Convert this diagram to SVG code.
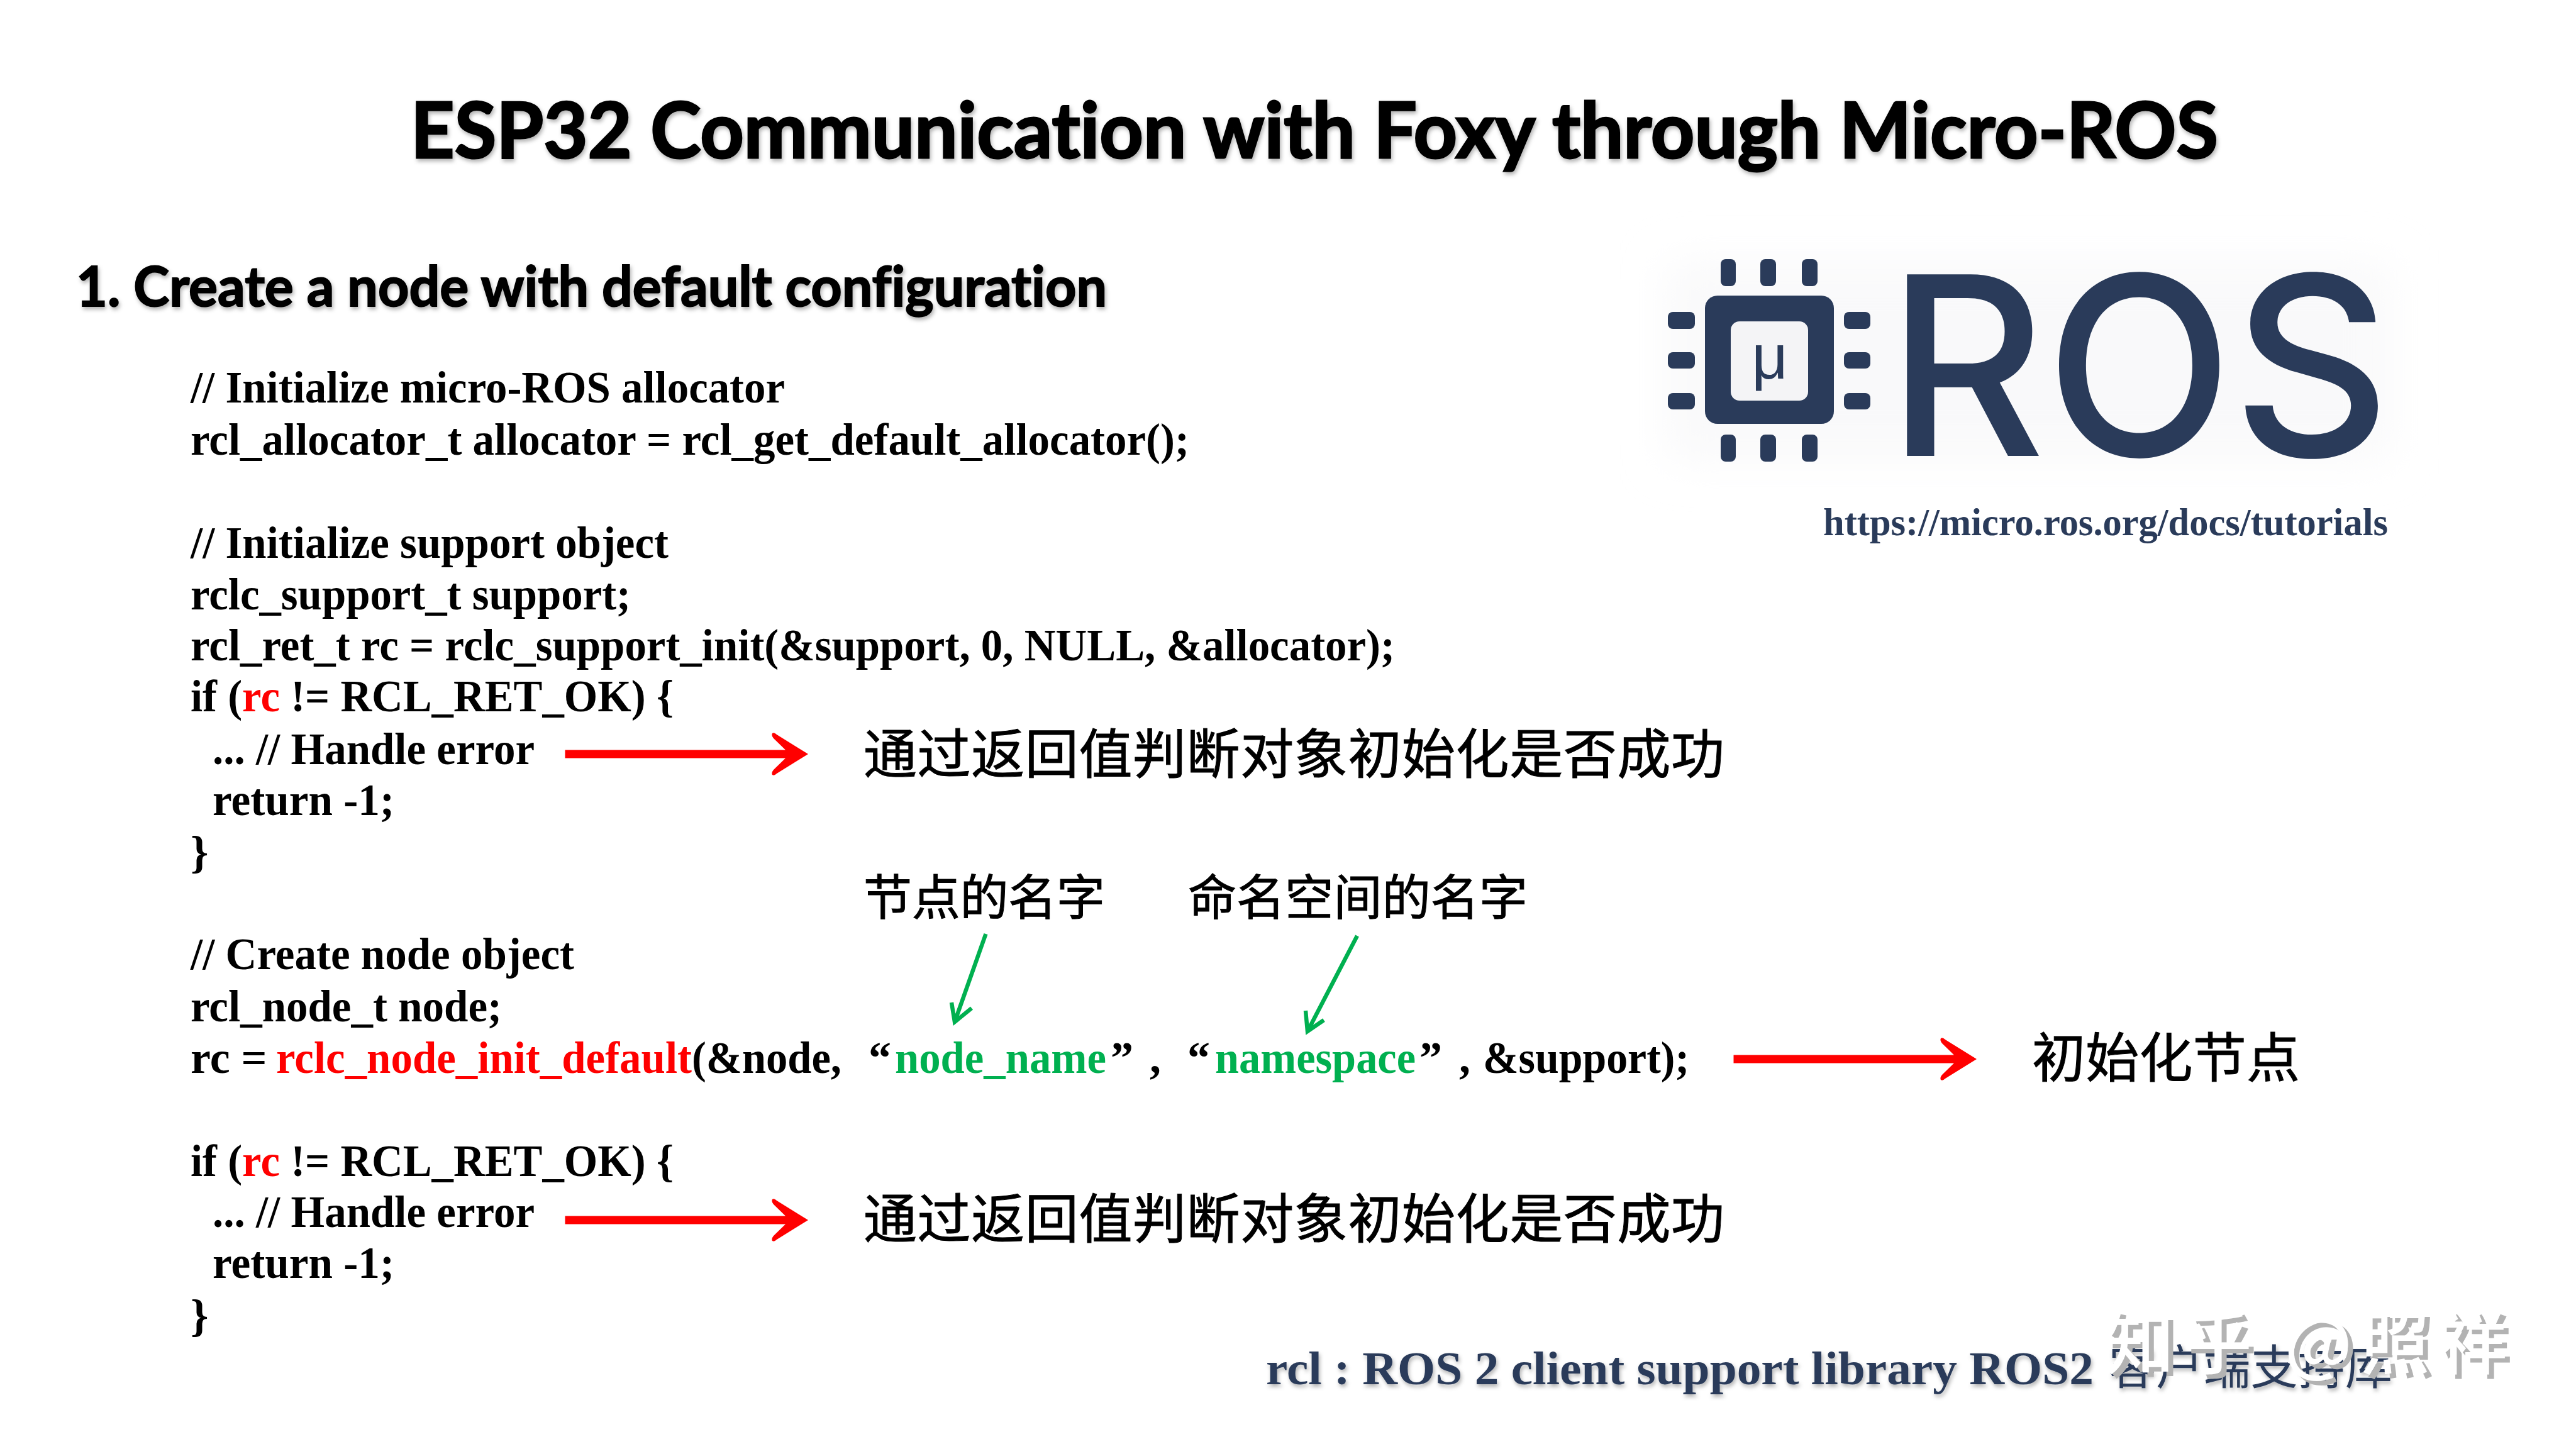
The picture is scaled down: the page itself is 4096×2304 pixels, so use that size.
<svg xmlns="http://www.w3.org/2000/svg" width="4096" height="2304" viewBox="0 0 4096 2304">
<style>
.c{font-family:"Liberation Serif","Noto Sans CJK SC",serif;font-weight:700;font-size:72px;fill:#000}
.r{fill:#f00}.g{fill:#00b050}
.h{font-family:Lato,"Liberation Sans",sans-serif;font-weight:700;fill:#000;stroke:#000;font-variant-ligatures:none}
.z{font-family:"Noto Sans CJK SC",sans-serif;fill:#000;stroke:#000;stroke-width:1}
.n{font-family:"Liberation Serif","Noto Sans CJK SC",serif;font-weight:700;fill:#2a3b5a}
.p{fill:#2a3b5a}
.ga{fill:none;stroke:#00b050;stroke-width:6.5}
</style>
<defs>
<filter id="b" x="-20%" y="-30%" width="140%" height="160%"><feGaussianBlur stdDeviation="35"/></filter>
<filter id="s" x="-5%" y="-20%" width="110%" height="150%"><feDropShadow dx="2" dy="4" stdDeviation="3" flood-color="#000" flood-opacity=".3"/></filter>
<filter id="w" x="-5%" y="-10%" width="110%" height="120%"><feDropShadow dx="8" dy="7" stdDeviation="0" flood-color="#b3b3b3"/></filter>
<path id="ra" fill="#f00" d="M898.5 1192.6H1249L1231 1175Q1226 1170 1228 1166Q1231 1164 1235 1168L1285 1199L1235 1230Q1231 1234 1228 1232Q1226 1228 1231 1223L1249 1205.4H898.5Z"/>
</defs>
<rect width="4096" height="2304" fill="#fff"/>
<g id="title"><text class="h" x="653" y="251" font-size="122" stroke-width="3" textLength="2874" lengthAdjust="spacingAndGlyphs" filter="url(#s)">ESP32 Communication with Foxy through Micro-ROS</text></g>
<g id="heading"><text class="h" x="121" y="487" font-size="88" stroke-width="2" textLength="1639" lengthAdjust="spacingAndGlyphs" filter="url(#s)">1. Create a node with default configuration</text></g>
<g id="logo">
<rect x="2650" y="420" width="1150" height="310" fill="#f9f9fa" filter="url(#b)"/>
<rect class="p" x="2711" y="470" width="205" height="204" rx="20"/>
<rect x="2752" y="511" width="123" height="126" rx="14" fill="#f4f4f6"/>
<text x="2814" y="602" font-family="'Liberation Sans',sans-serif" font-size="100" text-anchor="middle" class="p">μ</text>
<g class="p">
<rect x="2736" y="412" width="24" height="43" rx="8"/><rect x="2799" y="412" width="25" height="43" rx="8"/><rect x="2865" y="412" width="25" height="43" rx="8"/>
<rect x="2736" y="691" width="24" height="43" rx="8"/><rect x="2799" y="691" width="25" height="43" rx="8"/><rect x="2865" y="691" width="25" height="43" rx="8"/>
<rect x="2652" y="496" width="43" height="27" rx="8"/><rect x="2652" y="560" width="43" height="26" rx="8"/><rect x="2652" y="625" width="43" height="26" rx="8"/>
<rect x="2932" y="496" width="42" height="27" rx="8"/><rect x="2932" y="560" width="42" height="26" rx="8"/><rect x="2932" y="625" width="42" height="26" rx="8"/>
</g>
<text class="p" x="3001" y="725" font-family="Inter,'Noto Sans',sans-serif" font-weight="500" font-size="397" textLength="800" lengthAdjust="spacingAndGlyphs">ROS</text>
</g>
<g id="url"><text class="n" x="2899" y="851" font-size="62" textLength="898" lengthAdjust="spacingAndGlyphs">https://micro.ros.org/docs/tutorials</text></g>
<g id="code1">
<text class="c" x="303" y="640" textLength="945" lengthAdjust="spacingAndGlyphs">// Initialize micro-ROS allocator</text>
<text class="c" x="303" y="723" textLength="1588" lengthAdjust="spacingAndGlyphs">rcl_allocator_t allocator = rcl_get_default_allocator();</text>
<text class="c" x="303" y="887" textLength="760" lengthAdjust="spacingAndGlyphs">// Initialize support object</text>
<text class="c" x="303" y="969" textLength="700" lengthAdjust="spacingAndGlyphs">rclc_support_t support;</text>
<text class="c" x="303" y="1050" textLength="1915" lengthAdjust="spacingAndGlyphs">rcl_ret_t rc = rclc_support_init(&amp;support, 0, NULL, &amp;allocator);</text>
<text class="c" x="303" y="1131" textLength="768" lengthAdjust="spacingAndGlyphs">if (<tspan class="r">rc</tspan> != RCL_RET_OK) {</text>
<text class="c" x="338" y="1215" textLength="512" lengthAdjust="spacingAndGlyphs">... // Handle error</text>
<text class="c" x="338" y="1296" textLength="289" lengthAdjust="spacingAndGlyphs">return -1;</text>
<text class="c" x="303" y="1379">}</text>
</g>
<g id="code2">
<text class="c" x="303" y="1541" textLength="610" lengthAdjust="spacingAndGlyphs">// Create node object</text>
<text class="c" x="303" y="1624" textLength="495" lengthAdjust="spacingAndGlyphs">rcl_node_t node;</text>
<text class="c" x="303" y="1706">rc =</text>
<text class="c r" x="439" y="1706" textLength="661" lengthAdjust="spacingAndGlyphs">rclc_node_init_default</text>
<text class="c" x="1100" y="1706" textLength="238" lengthAdjust="spacingAndGlyphs">(&amp;node,</text>
<text class="c" x="1381" y="1706">“</text>
<text class="c g" x="1423" y="1706" textLength="336" lengthAdjust="spacingAndGlyphs">node_name</text>
<text class="c" x="1766" y="1706">”</text>
<text class="c" x="1828" y="1706">,</text>
<text class="c" x="1888" y="1706">“</text>
<text class="c g" x="1932" y="1706" textLength="319" lengthAdjust="spacingAndGlyphs">namespace</text>
<text class="c" x="2257" y="1706">”</text>
<text class="c" x="2320" y="1706">,</text>
<text class="c" x="2358" y="1706" textLength="328" lengthAdjust="spacingAndGlyphs">&amp;support);</text>
</g>
<g id="code3">
<text class="c" x="303" y="1870" textLength="768" lengthAdjust="spacingAndGlyphs">if (<tspan class="r">rc</tspan> != RCL_RET_OK) {</text>
<text class="c" x="338" y="1951" textLength="512" lengthAdjust="spacingAndGlyphs">... // Handle error</text>
<text class="c" x="338" y="2032" textLength="289" lengthAdjust="spacingAndGlyphs">return -1;</text>
<text class="c" x="303" y="2116">}</text>
</g>
<g id="notes">
<text class="z" x="1373" y="1230" font-size="85" textLength="1369">通过返回值判断对象初始化是否成功</text>
<text class="z" x="1373" y="1455" font-size="77" textLength="384">节点的名字</text>
<text class="z" x="1889" y="1455" font-size="77" textLength="540">命名空间的名字</text>
<text class="z" x="3231" y="1713" font-size="85" textLength="426">初始化节点</text>
<text class="z" x="1373" y="1969" font-size="85" textLength="1369">通过返回值判断对象初始化是否成功</text>
</g>
<g id="connectors">
<use href="#ra"/>
<use href="#ra" y="741"/>
<use href="#ra" x="1858" y="485"/>
<path class="ga" d="M1567.5 1485L1518 1625M1513 1594L1518 1625L1545 1603"/>
<path class="ga" d="M2158 1488L2079 1640M2076 1607L2079 1640L2105 1622"/>
</g>
<g id="footer"><text class="n" x="2013" y="2201" font-size="75" textLength="1316" lengthAdjust="spacingAndGlyphs" filter="url(#s)">rcl : ROS 2 client support library ROS2</text>
<text class="n" x="3353" y="2201" font-size="75" textLength="451" style="font-family:'Noto Sans CJK SC',sans-serif;font-weight:400" filter="url(#s)">客户端支持库</text></g>
<g id="watermark"><text x="3347" y="2176" font-family="'Noto Sans CJK SC',sans-serif" font-size="110" font-weight="500" fill="#fff" filter="url(#w)" textLength="640">知乎 @照祥</text></g>
</svg>
